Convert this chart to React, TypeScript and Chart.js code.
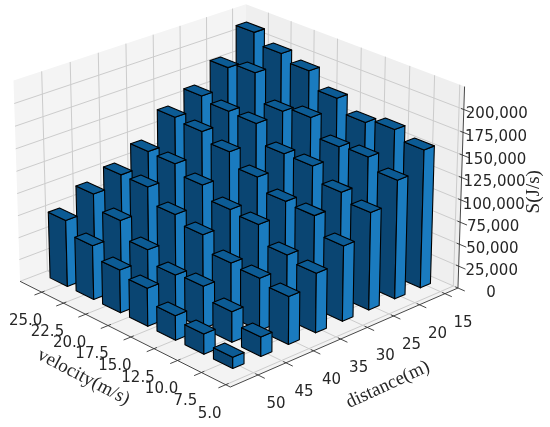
import React, { useEffect, useRef } from "react";
import { Chart, registerables } from "chart.js";

Chart.register(...registerables);

// ---------------- data ----------------
const VELOCITY = [7, 10, 13, 16, 19, 22, 25]; // m/s
const DISTANCE = [15, 20, 25, 30, 35, 40, 45, 50]; // m
// S (J/s) per velocity, in DISTANCE order
const S_V07 = [155500, 133300, 109200, 84300, 66300, 53200, 21500, 12400];
const S_V10 = [164900, 145600, 117800, 103600, 72000, 58500, 34100, 22400];
const S_V13 = [159900, 143700, 133500, 105500, 91400, 60700, 47200, 27300];
const S_V16 = [174400, 163500, 133800, 119000, 94300, 77900, 44900, 42600];
const S_V19 = [192700, 157700, 154700, 133900, 107800, 86500, 58700, 48200];
const S_V22 = [200000, 188500, 155700, 143600, 118200, 103400, 77500, 61000];
const S_V25 = [212100, 182100, 160200, 146800, 118800, 103600, 93300, 75300];
const S_ROWS = [S_V07, S_V10, S_V13, S_V16, S_V19, S_V22, S_V25];

const VEL_TICKS = [5, 7.5, 10, 12.5, 15, 17.5, 20, 22.5, 25];
const DIST_TICKS = [15, 20, 25, 30, 35, 40, 45, 50];
const Z_TICKS = [0, 25000, 50000, 75000, 100000, 125000, 150000, 175000, 200000];

// axis limits
const VEL_MIN = 4.53, VEL_MAX = 27.52;
const DIST_MIN = 12.42, DIST_MAX = 54.87;
const Z_MIN = 0, Z_MAX = 225000;

// bar footprint (like bar3d x offset / dx / dy)
const BAR_VEL_START = -0.55, BAR_VEL_WIDTH = 2;
const BAR_DIST_START = -0.85, BAR_DIST_WIDTH = 2;

// ---------------- view ----------------
const DEG = Math.PI / 180;
const ELEV = 24 * DEG, AZIM = 47 * DEG;
const EYE_DIST = 11;
const BOX_X = 1.143, BOX_Y = 1.143, BOX_Z = 0.8;
const sE = Math.sin(ELEV), cE = Math.cos(ELEV), cA = Math.cos(AZIM), sA = Math.sin(AZIM);

const W = 550, H = 427;
const K = 3026, OX = 238.5, OY = 185.6;

function project(v: number, d: number, s: number) {
  const a = (v - VEL_MIN) / (VEL_MAX - VEL_MIN);
  const b = (DIST_MAX - d) / (DIST_MAX - DIST_MIN);
  const c = (s - Z_MIN) / (Z_MAX - Z_MIN);
  const x = (b - 0.5) * BOX_X, y = (a - 0.5) * BOX_Y, z = (c - 0.5) * BOX_Z;
  const hor = x * cA + y * sA;
  const pr = x * sA - y * cA;
  const pu = sE * hor + cE * z;
  const pf = cE * hor - sE * z;
  const depth = EYE_DIST + pf;
  return { sx: pr / depth, sy: pu / depth, depth };
}

const COL_TOP = "#0c5b94";
const COL_LEFT = "#0a4572";
const COL_RIGHT = "#1a7bbf";
const GRID = "#cccccc";
const TEXT = "#262626";

const bars3dPlugin = {
  id: "bars3d",
  beforeDatasetsDraw(chart: any) {
    const ctx: CanvasRenderingContext2D = chart.ctx;
    const xs = chart.scales.x, ys = chart.scales.y;
    const P = (v: number, d: number, s: number): [number, number] => {
      const p = project(v, d, s);
      return [xs.getPixelForValue(p.sx), ys.getPixelForValue(p.sy)];
    };
    const poly = (pts: [number, number][], fill: string | null, stroke: string | null, lw = 1) => {
      ctx.beginPath();
      pts.forEach((p, k) => (k ? ctx.lineTo(p[0], p[1]) : ctx.moveTo(p[0], p[1])));
      ctx.closePath();
      if (fill) { ctx.fillStyle = fill; ctx.fill(); }
      if (stroke) { ctx.strokeStyle = stroke; ctx.lineWidth = lw; ctx.stroke(); }
    };
    const line = (p: [number, number], q: [number, number], col: string, lw: number) => {
      ctx.beginPath();
      ctx.moveTo(p[0], p[1]);
      ctx.lineTo(q[0], q[1]);
      ctx.strokeStyle = col;
      ctx.lineWidth = lw;
      ctx.stroke();
    };

    ctx.save();
    ctx.lineJoin = "round";
    // panes
    poly([P(VEL_MIN, DIST_MAX, 0), P(VEL_MAX, DIST_MAX, 0), P(VEL_MAX, DIST_MIN, 0), P(VEL_MIN, DIST_MIN, 0)], "#f3f3f3", null);
    poly([P(VEL_MAX, DIST_MAX, 0), P(VEL_MAX, DIST_MIN, 0), P(VEL_MAX, DIST_MIN, Z_MAX), P(VEL_MAX, DIST_MAX, Z_MAX)], "#f4f4f4", null);
    poly([P(VEL_MIN, DIST_MIN, 0), P(VEL_MAX, DIST_MIN, 0), P(VEL_MAX, DIST_MIN, Z_MAX), P(VEL_MIN, DIST_MIN, Z_MAX)], "#efefef", null);

    // grid
    VEL_TICKS.forEach((v) => {
      line(P(v, DIST_MAX, 0), P(v, DIST_MIN, 0), GRID, 1);
      line(P(v, DIST_MIN, 0), P(v, DIST_MIN, Z_MAX), GRID, 1);
    });
    DIST_TICKS.forEach((d) => {
      line(P(VEL_MIN, d, 0), P(VEL_MAX, d, 0), GRID, 1);
      line(P(VEL_MAX, d, 0), P(VEL_MAX, d, Z_MAX), GRID, 1);
    });
    Z_TICKS.forEach((z) => {
      line(P(VEL_MAX, DIST_MAX, z), P(VEL_MAX, DIST_MIN, z), GRID, 1);
      line(P(VEL_MIN, DIST_MIN, z), P(VEL_MAX, DIST_MIN, z), GRID, 1);
    });

    // axis lines + ticks
    const AX = "#333";
    line(P(VEL_MIN, DIST_MAX, 0), P(VEL_MAX, DIST_MAX, 0), AX, 0.9);
    line(P(VEL_MIN, DIST_MAX, 0), P(VEL_MIN, DIST_MIN, 0), AX, 0.9);
    line(P(VEL_MIN, DIST_MIN, 0), P(VEL_MIN, DIST_MIN, Z_MAX), AX, 0.9);
    const dR = DIST_MAX - DIST_MIN, vR = VEL_MAX - VEL_MIN;
    VEL_TICKS.forEach((v) => line(P(v, DIST_MAX - 0.012 * dR, 0), P(v, DIST_MAX + 0.03 * dR, 0), AX, 0.9));
    DIST_TICKS.forEach((d) => line(P(VEL_MIN + 0.012 * vR, d, 0), P(VEL_MIN - 0.03 * vR, d, 0), AX, 0.9));
    Z_TICKS.forEach((z) => line(P(VEL_MIN + 0.012 * vR, DIST_MIN, z), P(VEL_MIN - 0.03 * vR, DIST_MIN, z), AX, 0.9));

    // bars, painter's order (far first)
    const items: { v0: number; v1: number; d0: number; d1: number; s: number; depth: number }[] = [];
    VELOCITY.forEach((v, i) => {
      DISTANCE.forEach((d, j) => {
        const s = S_ROWS[i][j];
        const v0 = v + BAR_VEL_START, v1 = v0 + BAR_VEL_WIDTH;
        const d0 = d + BAR_DIST_START, d1 = d0 + BAR_DIST_WIDTH;
        const depth = project((v0 + v1) / 2, (d0 + d1) / 2, s / 2).depth;
        items.push({ v0, v1, d0, d1, s, depth });
      });
    });
    items.sort((p, q) => q.depth - p.depth);
    items.forEach(({ v0, v1, d0, d1, s }) => {
      poly([P(v0, d1, 0), P(v1, d1, 0), P(v1, d1, s), P(v0, d1, s)], COL_LEFT, "#000", 1.1);
      poly([P(v0, d1, 0), P(v0, d0, 0), P(v0, d0, s), P(v0, d1, s)], COL_RIGHT, "#000", 1.1);
      poly([P(v0, d1, s), P(v1, d1, s), P(v1, d0, s), P(v0, d0, s)], COL_TOP, "#000", 1.1);
    });

    // tick labels
    ctx.fillStyle = TEXT;
    ctx.textAlign = "center";
    ctx.textBaseline = "middle";
    ctx.font = '15px "DejaVu Sans"';
    VEL_TICKS.forEach((v) => {
      const p = P(v, DIST_MAX, 0);
      ctx.fillText(v.toFixed(1), p[0] - 16, p[1] + 29);
    });
    DIST_TICKS.forEach((d) => {
      const p = P(VEL_MIN, d, 0);
      ctx.fillText(String(d), p[0] + 18, p[1] + 29);
    });
    Z_TICKS.forEach((z) => {
      const p = P(VEL_MIN, DIST_MIN, z);
      ctx.fillText(z.toLocaleString("en-US"), p[0] + 33, p[1] + 5);
    });

    // axis titles
    const rot = (t: string, x: number, y: number, ang: number) => {
      ctx.save();
      ctx.translate(x, y);
      ctx.rotate(ang);
      ctx.font = '19px "Liberation Serif"';
      ctx.fillStyle = TEXT;
      ctx.textAlign = "center";
      ctx.textBaseline = "middle";
      ctx.fillText(t, 0, 0);
      ctx.restore();
    };
    const vm = P((VEL_MIN + VEL_MAX) / 2, DIST_MAX, 0);
    rot("velocity(m/s)", vm[0] - 38, vm[1] + 45, 27.5 * DEG);
    const dm = P(VEL_MIN, (DIST_MIN + DIST_MAX) / 2, 0);
    rot("distance(m)", dm[0] + 40, dm[1] + 49, -25 * DEG);
    const zm = P(VEL_MIN, DIST_MIN, Z_MAX / 2);
    rot("S(J/s)", zm[0] + 73, zm[1] + 3, -90 * DEG);
    ctx.restore();
  },
};

export default function App() {
  const ref = useRef<HTMLCanvasElement | null>(null);
  useEffect(() => {
    if (!ref.current) return;
    const pts: { x: number; y: number }[] = [];
    VELOCITY.forEach((v, i) =>
      DISTANCE.forEach((d, j) => {
        const p = project(v, d, S_ROWS[i][j]);
        pts.push({ x: p.sx, y: p.sy });
      })
    );
    const chart = new Chart(ref.current, {
      type: "scatter",
      data: { datasets: [{ data: pts, pointRadius: 0, pointHoverRadius: 0, showLine: false }] },
      options: {
        animation: false,
        responsive: true,
        maintainAspectRatio: false,
        events: [],
        layout: { padding: 0 },
        plugins: { legend: { display: false }, tooltip: { enabled: false } },
        scales: {
          x: { type: "linear", display: false, min: -OX / K, max: (W - OX) / K },
          y: { type: "linear", display: false, min: (OY - H) / K, max: OY / K },
        },
      },
      plugins: [bars3dPlugin],
    });
    return () => chart.destroy();
  }, []);
  return (
    <div style={{ position: "fixed", left: 0, top: 0, width: W, height: H, background: "#fff" }}>
      <canvas ref={ref} />
    </div>
  );
}
